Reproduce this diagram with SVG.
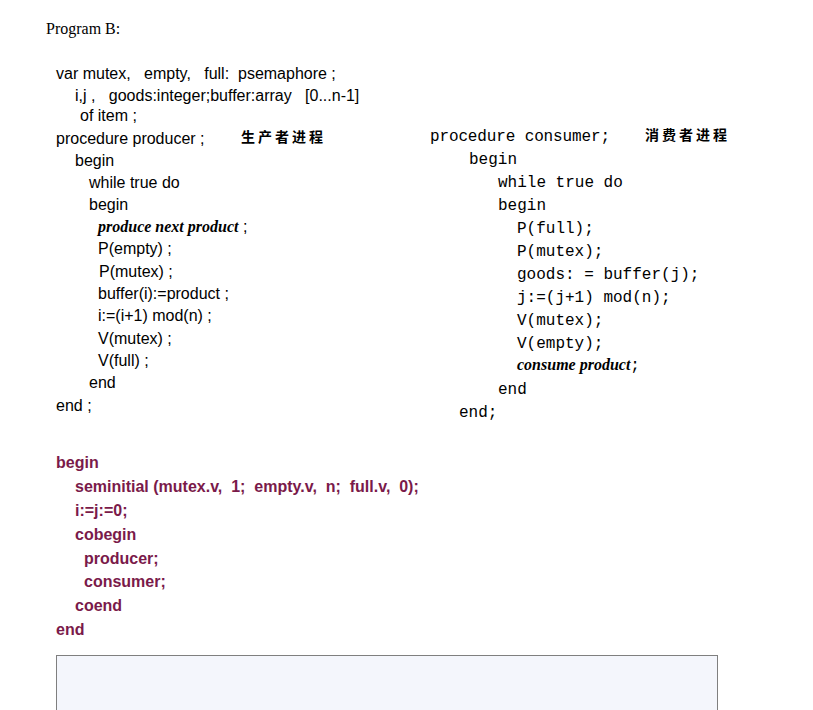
<svg xmlns="http://www.w3.org/2000/svg" width="813" height="710" viewBox="0 0 813 710">
<style>
text{white-space:pre}
.s{font-family:"Liberation Sans",Arial,sans-serif;font-size:16px;fill:#000}
.m{font-family:"Liberation Mono","Noto Sans CJK SC",monospace;font-size:16px;fill:#000}
.i{font-family:"Liberation Serif",serif;font-style:italic;font-weight:bold;font-size:16px}
.c{font-family:"Noto Sans CJK SC",sans-serif;font-weight:bold;font-size:14px;letter-spacing:3px;fill:#000}
.p{font-family:"Liberation Sans",Arial,sans-serif;font-size:16px;font-weight:bold;fill:#7a1a4a}
</style>
<rect width="813" height="710" fill="#fff"/>
<text x="46" y="34" font-family="Liberation Serif,serif" font-size="16">Program B:</text>
<g id="producer">
<text class="s" x="56" y="79">var mutex,   empty,   full:  psemaphore ;</text>
<text class="s" x="75" y="101">i,j ,   goods:integer;buffer:array   [0...n-1]</text>
<text class="s" x="80" y="121">of item ;</text>
<text class="s" x="56" y="144">procedure producer ;</text>
<text class="c" x="241" y="142">生产者进程</text>
<text class="s" x="75" y="166">begin</text>
<text class="s" x="89" y="188">while true do</text>
<text class="s" x="89" y="210">begin</text>
<text x="98" y="232"><tspan class="i">produce next product</tspan><tspan class="s"> ;</tspan></text>
<text class="s" x="98" y="254">P(empty) ;</text>
<text class="s" x="99" y="277">P(mutex) ;</text>
<text class="s" x="98" y="299">buffer(i):=product ;</text>
<text class="s" x="98" y="321">i:=(i+1) mod(n) ;</text>
<text class="s" x="98" y="344">V(mutex) ;</text>
<text class="s" x="98" y="366">V(full) ;</text>
<text class="s" x="89" y="388">end</text>
<text class="s" x="56" y="411">end ;</text>
</g>
<g id="consumer">
<text class="m" x="430" y="141" textLength="180">procedure consumer;</text>
<text class="c" x="645" y="140">消费者进程</text>
<text class="m" x="469" y="164">begin</text>
<text class="m" x="498" y="187">while true do</text>
<text class="m" x="498" y="210">begin</text>
<text class="m" x="517" y="233">P(full);</text>
<text class="m" x="517" y="256">P(mutex);</text>
<text class="m" x="517" y="279">goods: = buffer(j);</text>
<text class="m" x="517" y="302">j:=(j+1) mod(n);</text>
<text class="m" x="517" y="325">V(mutex);</text>
<text class="m" x="517" y="348">V(empty);</text>
<text x="517" y="370"><tspan class="i">consume product</tspan><tspan class="m">;</tspan></text>
<text class="m" x="498" y="394">end</text>
<text class="m" x="459" y="417">end;</text>
</g>
<g id="main">
<text class="p" x="56" y="468">begin</text>
<text class="p" x="75" y="492">seminitial (mutex.v,  1;  empty.v,  n;  full.v,  0);</text>
<text class="p" x="75" y="516">i:=j:=0;</text>
<text class="p" x="75" y="540">cobegin</text>
<text class="p" x="84" y="564">producer;</text>
<text class="p" x="84" y="587">consumer;</text>
<text class="p" x="75" y="611">coend</text>
<text class="p" x="56" y="635">end</text>
</g>
<rect x="56.5" y="655.5" width="661" height="70" fill="#f4f6fc" stroke="#7f7f7f"/>
</svg>
